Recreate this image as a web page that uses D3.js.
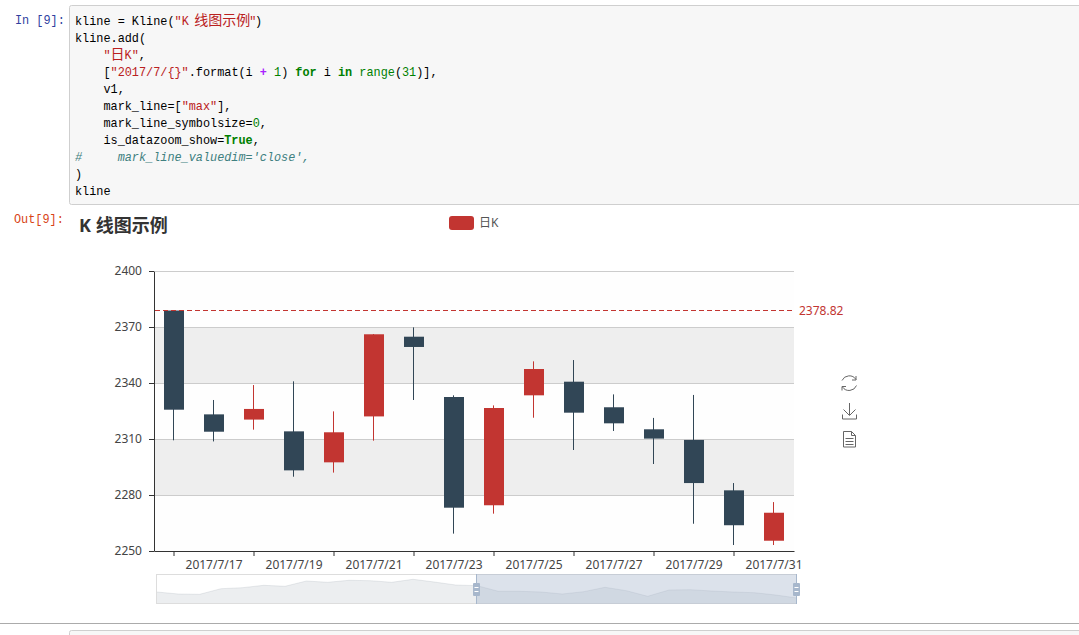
<!DOCTYPE html>
<html>
<head>
    <meta charset="utf-8">
    <script src="https://d3js.org/d3.v7.min.js"></script>
    <style>
        html, body { margin: 0; padding: 0; background: #fff; overflow: hidden; }
        svg { display: block; }
        text { font-family: "Noto Sans", "Noto Sans CJK SC", sans-serif; }
        .code text, .prompt { font-family: "Liberation Mono", "Noto Sans CJK SC", monospace; font-size: 11.85px; white-space: pre; }
        .cjk { font-family: "Noto Sans CJK SC", sans-serif; font-size: 14px; }
        .str { fill: #ba2121; }
        .kw { fill: #008000; font-weight: bold; }
        .num { fill: #008000; }
        .op { fill: #aa22ff; font-weight: bold; }
        .com { fill: #408080; font-style: italic; }
        .axis text { font-size: 12px; fill: #444; }
        .axis path, .axis line { stroke: #333; }
    </style>
</head>
<body>
    <svg width="1079" height="635"></svg>
    <script>
        const title = 'K 线图示例';
        const seriesName = '日K';

        // 7/16 .. 7/31, the part of the month the zoom window shows
        const days = ['2017/7/16', '2017/7/17', '2017/7/18', '2017/7/19', '2017/7/20', '2017/7/21', '2017/7/22', '2017/7/23',
            '2017/7/24', '2017/7/25', '2017/7/26', '2017/7/27', '2017/7/28', '2017/7/29', '2017/7/30', '2017/7/31'];
        const opens = [2378.82, 2323.2, 2320.4, 2314.1, 2297.5, 2322.1, 2364.8, 2332.5,
            2274.5, 2333.4, 2340.7, 2327.0, 2315.2, 2309.5, 2282.5, 2255.5];
        const closes = [2325.7, 2313.9, 2326.1, 2293.2, 2313.6, 2366.1, 2359.3, 2273.2,
            2326.6, 2347.5, 2324.1, 2318.4, 2310.2, 2286.4, 2263.8, 2270.5];
        const lows = [2309.3, 2308.7, 2315.0, 2289.8, 2292.0, 2309.1, 2330.9, 2259.3,
            2270.0, 2321.4, 2304.1, 2314.3, 2296.6, 2264.6, 2253.2, 2253.2];
        const highs = [2378.82, 2330.9, 2338.9, 2340.9, 2324.8, 2366.2, 2369.8, 2333.4,
            2328.0, 2351.6, 2352.3, 2333.9, 2321.3, 2333.6, 2286.4, 2276.2];

        const yTicks = [2250, 2280, 2310, 2340, 2370, 2400];
        const xLabels = days.filter((d, i) => i % 2 === 1);
        const xTicks = days.filter((d, i) => i % 2 === 0);
        const maxValue = 2378.82;

        // slider background: first value of every day of the month
        const monthDays = d3.range(1, 32).map(i => '2017/7/' + i);
        const sliderValues = [2315.5, 2295.5, 2292.5, 2348.5, 2358.5, 2382.5, 2372.5, 2425.5, 2412.5, 2432.5, 2428.5,
            2412.5, 2442.5, 2415.5, 2385.5, 2378.82, 2322.5, 2322.5, 2315.5, 2295.5, 2318.5, 2362.5, 2328.5, 2272.5,
            2335.5, 2338.5, 2325.5, 2315.5, 2308.5, 2285.5, 2255.5];

        // notebook cell source, [text, style, dx] per piece
        const codeLines = [
            [['kline = Kline('], ['"', 'str'], ['K ', 'str'], ['线图示例', 'str cjk', -1.5], ['"', 'str', -1], [')', null, -1.5]],
            [['kline.add(']],
            [['    '], ['"', 'str'], ['日', 'str cjk'], ['K', 'str'], ['"', 'str'], [',']],
            [['    ['], ['"2017/7/{}"', 'str'], ['.format(i '], ['+', 'op'], [' '], ['1', 'num'], [') '], ['for', 'kw'], [' i '], ['in', 'kw'], [' '], ['range', 'num'], ['('], ['31', 'num'], [')],']],
            [['    v1,']],
            [['    mark_line=['], ['"max"', 'str'], ['],']],
            [['    mark_line_symbolsize='], ['0', 'num'], [',']],
            [['    is_datazoom_show='], ['True', 'kw'], [',']],
            [["#     mark_line_valuedim='close',", 'com']],
            [[')']],
            [['kline']]
        ];

        const svg = d3.select('svg');

        // notebook chrome
        svg.append('rect').attr('x', 69.5).attr('y', 5.5).attr('width', 1030).attr('height', 199)
            .attr('rx', 2).attr('fill', '#f7f7f7').attr('stroke', '#cfcfcf');
        svg.append('line').attr('x1', 0).attr('x2', 1079).attr('y1', 623.5).attr('y2', 623.5).attr('stroke', '#ababab');
        svg.append('rect').attr('x', 69.5).attr('y', 630.5).attr('width', 1030).attr('height', 30)
            .attr('rx', 2).attr('fill', '#f7f7f7').attr('stroke', '#cfcfcf');
        svg.append('text').attr('class', 'prompt').attr('x', 15).attr('y', 24).attr('fill', '#303f9f').text('In [9]:');
        svg.append('text').attr('class', 'prompt').attr('x', 14).attr('y', 223).attr('fill', '#d84315').text('Out[9]:');

        const code = svg.append('g').attr('class', 'code');
        codeLines.forEach((pieces, i) => {
            const line = code.append('text').attr('x', 75).attr('y', 24.5 + i * 17);
            pieces.forEach(p => line.append('tspan').attr('class', p[1] || null).attr('dx', p[2] || null).text(p[0]));
        });

        // title and legend
        svg.append('text').attr('x', 79).attr('y', 232).attr('font-size', 18).attr('font-weight', 'bold')
            .attr('fill', '#333').text(title);
        svg.append('rect').attr('x', 449).attr('y', 216).attr('width', 25).attr('height', 14).attr('rx', 3).attr('fill', '#c23531');
        svg.append('text').attr('x', 479).attr('y', 227).attr('font-size', 12).attr('fill', '#555').text(seriesName);

        const x = d3.scaleBand().domain(days).range([154, 794]);
        const y = d3.scaleLinear().domain([2250, 2400]).range([551, 271]);

        // alternating bands between the grid lines
        const bands = d3.pairs(yTicks);
        svg.append('g').selectAll('rect')
            .data(bands)
            .enter()
            .append('rect')
            .attr('x', 155)
            .attr('width', 639)
            .attr('y', d => y(d[1]))
            .attr('height', d => y(d[0]) - y(d[1]))
            .attr('fill', (d, i) => i % 2 === 1 ? '#eeeeee' : '#fefefe');

        svg.append('g').selectAll('line')
            .data(yTicks.slice(1))
            .enter()
            .append('line')
            .attr('x1', 155)
            .attr('x2', 794)
            .attr('y1', d => y(d) + 0.5)
            .attr('y2', d => y(d) + 0.5)
            .attr('stroke', '#ccc');

        svg.append('g').attr('class', 'axis')
            .attr('transform', 'translate(154,0)')
            .call(d3.axisLeft(y).tickValues(yTicks).tickSize(5).tickSizeOuter(0).tickPadding(7).tickFormat(d3.format('d')));

        svg.append('g').attr('class', 'axis')
            .attr('transform', 'translate(0,551)')
            .call(d3.axisBottom(x).tickValues(xTicks).tickSize(5).tickSizeOuter(0).tickFormat(''));

        svg.append('g').attr('class', 'axis')
            .attr('transform', 'translate(0,551)')
            .call(d3.axisBottom(x).tickValues(xLabels).tickSize(0).tickPadding(9))
            .call(g => g.select('.domain').remove());

        // candles
        const candleColor = i => closes[i] >= opens[i] ? '#c23531' : '#314656';
        const candles = svg.append('g').selectAll('g')
            .data(days)
            .enter()
            .append('g');

        candles.append('line')
            .attr('x1', d => x(d) + x.bandwidth() / 2 - 0.5)
            .attr('x2', d => x(d) + x.bandwidth() / 2 - 0.5)
            .attr('y1', (d, i) => y(highs[i]))
            .attr('y2', (d, i) => y(lows[i]))
            .attr('stroke', (d, i) => candleColor(i));

        candles.append('rect')
            .attr('x', d => x(d) + x.bandwidth() / 4)
            .attr('width', x.bandwidth() / 2)
            .attr('y', (d, i) => y(Math.max(opens[i], closes[i])))
            .attr('height', (d, i) => Math.abs(y(opens[i]) - y(closes[i])))
            .attr('fill', (d, i) => candleColor(i));

        // max mark line, snapped to the pixel row so it stays crisp
        const maxY = Math.floor(y(maxValue)) + 0.5;
        svg.append('line')
            .attr('x1', 155)
            .attr('x2', 794)
            .attr('y1', maxY)
            .attr('y2', maxY)
            .attr('stroke', '#c23531')
            .attr('stroke-dasharray', '5,3');
        svg.append('text').attr('x', 799).attr('y', y(maxValue) + 4.5).attr('font-size', 12)
            .attr('fill', '#c23531').text(maxValue);

        // toolbox icons
        const icons = svg.append('g').attr('fill', 'none').attr('stroke', '#666').attr('stroke-width', 1);
        icons.append('path').attr('d', 'M842 380.5A8 8 0 0 1 856 379.5M856 376v4h-4M856.5 385.5A8 8 0 0 1 842.5 387M842 390.5v-4h4');
        icons.append('path').attr('d', 'M849.5 403v12M843.5 409.5l6 6l6-6M842.5 414.5v4.5h14v-4.5');
        icons.append('path').attr('d', 'M843.5 431.5h8l4 4v11.5h-12zM851.5 431.5v4h4M845.5 438.5h8M845.5 441.5h8M845.5 444.5h8');

        // datazoom slider
        const sx = d3.scalePoint().domain(monthDays).range([157, 797]);
        const sy = d3.scaleLinear().domain([2205.5, 2495.5]).range([603, 574]);
        const windowStart = sx('2017/7/16') - 0.5;
        const windowEnd = sx('2017/7/31') - 0.5;

        const area = d3.area()
            .x((d, i) => sx(monthDays[i]))
            .y0(603)
            .y1(d => sy(d));
        const spark = d3.line()
            .x((d, i) => sx(monthDays[i]))
            .y(d => sy(d));

        svg.append('rect').attr('x', 156.5).attr('y', 574.5).attr('width', 640).attr('height', 29)
            .attr('fill', 'none').attr('stroke', '#ddd');
        svg.append('path').attr('d', area(sliderValues)).attr('fill', '#2f4554').attr('fill-opacity', 0.09);
        svg.append('path').attr('d', spark(sliderValues)).attr('fill', 'none')
            .attr('stroke', '#2f4554').attr('stroke-opacity', 0.15).attr('stroke-width', 0.7);
        svg.append('rect').attr('x', windowStart).attr('y', 574).attr('width', windowEnd - windowStart).attr('height', 30)
            .attr('fill', '#a7b7cc').attr('fill-opacity', 0.4);

        const handles = svg.append('g').selectAll('g')
            .data([windowStart, windowEnd])
            .enter()
            .append('g')
            .attr('transform', d => `translate(${d},0)`);
        handles.append('line').attr('y1', 574).attr('y2', 604).attr('stroke', '#a7b7cc');
        handles.append('rect').attr('x', -3.5).attr('y', 583).attr('width', 7).attr('height', 13).attr('rx', 1).attr('fill', '#a7b7cc');
        handles.selectAll('.grip')
            .data([587, 591])
            .enter()
            .append('line')
            .attr('x1', -2)
            .attr('x2', 2)
            .attr('y1', d => d + 0.5)
            .attr('y2', d => d + 0.5)
            .attr('stroke', '#fff');
    </script>
</body>
</html>
